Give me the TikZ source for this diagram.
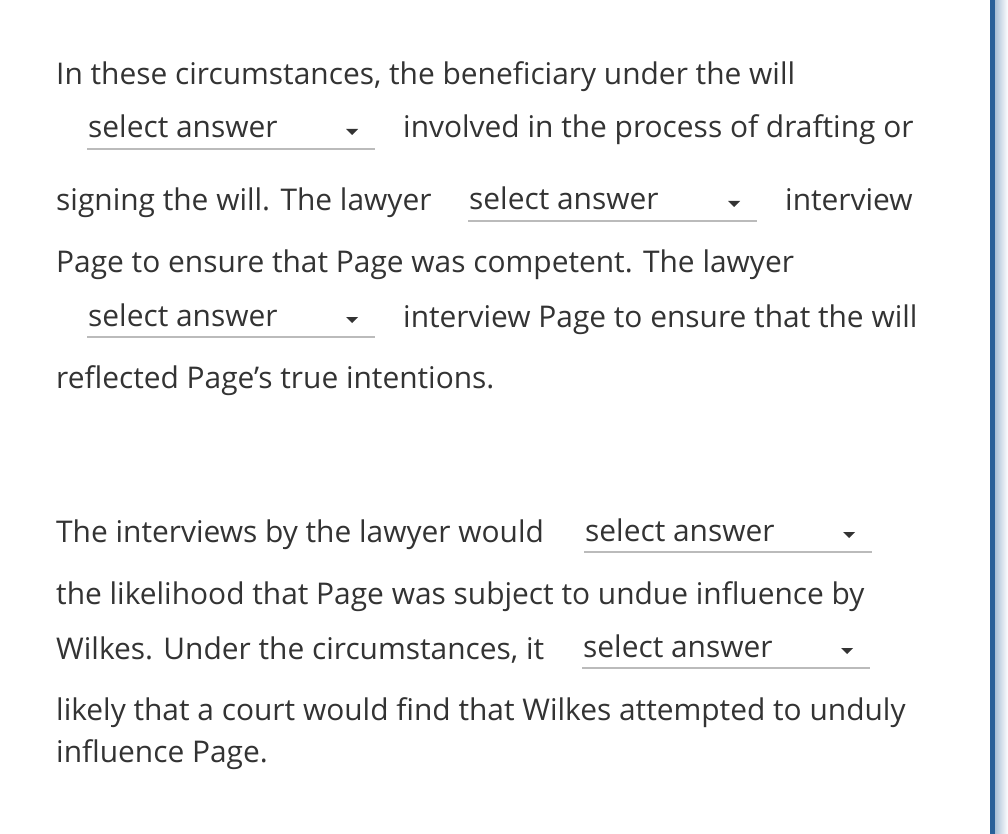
\documentclass[tikz,border=0pt]{standalone}
\usepackage{fontspec}
\setmainfont{Open Sans}
\definecolor{txt}{HTML}{333333}
\definecolor{bar}{HTML}{2A6099}
\definecolor{uline}{HTML}{BBBBBB}
\begin{document}
\begin{tikzpicture}[x=1pt,y=-1pt,
  t/.style={anchor=base west,inner sep=0pt,text=txt,font=\fontsize{29.9}{34}\selectfont},
  sel/.style={anchor=base west,inner sep=0pt,text=txt,font=\fontsize{29.9}{34}\selectfont}]
\useasboundingbox (0,0) rectangle (1008,834);
\fill[white] (0,0) rectangle (1008,834);
\fill[bar] (990,0) rectangle (995,834);
\shade[left color=bar!40,right color=white] (995,0) rectangle (1008,834);
\newcommand{\dd}[4]{% name, x, baseline, width
  \node[sel] (#1) at (#2+1,#3) {select answer};
  \draw[uline,line width=1.2pt] (#2,#3+11) -- (#2+#4,#3+11);
  \fill[txt] (#2+#4-29,#3-9) -- (#2+#4-17,#3-9) -- (#2+#4-23,#3-3) -- cycle;}
\node[t] (l1) at (56,85) {In these circumstances, the beneficiary under the will};
\dd{d1}{87}{138}{288}
\node[t] (l2) at (403,138) {involved in the process of drafting or};
\node[t] (l3) at (56,211) {signing the will. The lawyer};
\dd{d2}{468}{210}{289}
\node[t] (l3b) at (785,211) {interview};
\node[t] (l4) at (56,272) {Page to ensure that Page was competent. The lawyer};
\dd{d3}{87}{326}{288}
\node[t] (l5) at (403,327) {interview Page to ensure that the will};
\node[t] (l6) at (56,388) {reflected Page’s true intentions.};
\node[t] (l7) at (56,542) {The interviews by the lawyer would};
\dd{d4}{584}{541}{288}
\node[t] (l8) at (56,604) {the likelihood that Page was subject to undue influence by};
\node[t] (l9) at (56,659) {Wilkes. Under the circumstances, it};
\dd{d5}{582}{657}{288}
\node[t] (l10) at (56,720) {likely that a court would find that Wilkes attempted to unduly};
\node[t] (l11) at (56,762) {influence Page.};
\end{tikzpicture}
\end{document}
